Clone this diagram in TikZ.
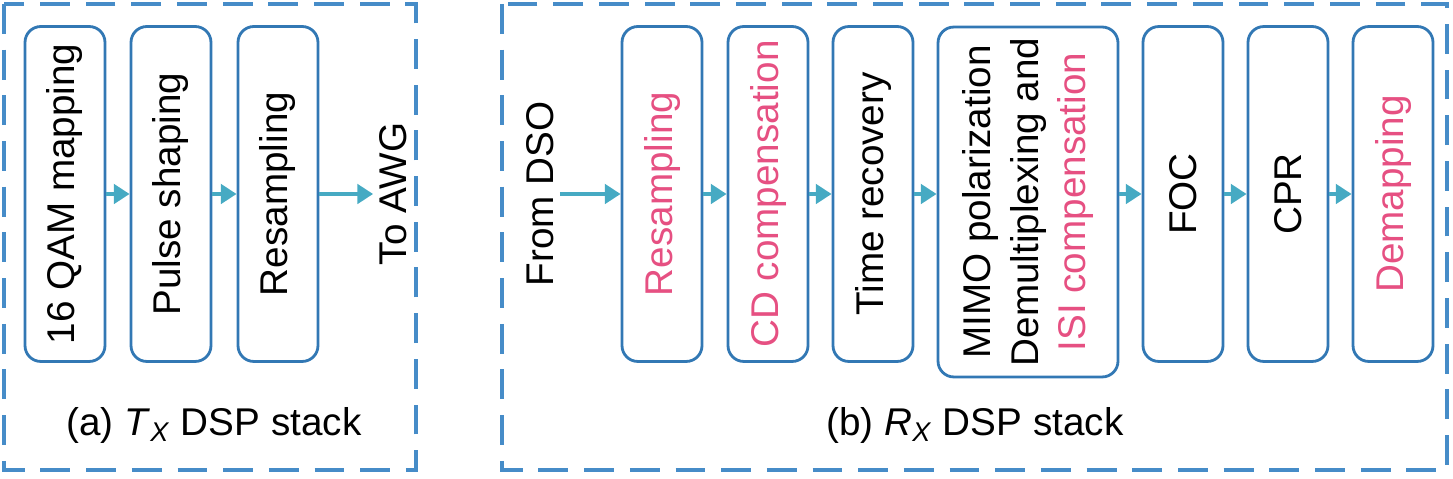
\documentclass[tikz,border=0pt]{standalone}
\usepackage{fontspec}
\setmainfont{Liberation Sans}
\usetikzlibrary{arrows.meta}
\definecolor{framecol}{RGB}{70,140,200}
\definecolor{boxcol}{RGB}{50,120,180}
\definecolor{arrcol}{RGB}{70,170,195}
\definecolor{pinkcol}{RGB}{230,80,130}
\tikzset{
  stage/.style={draw=boxcol, line width=1.6pt, rounded corners=9pt, rotate=90,
    minimum width=6.7cm, minimum height=1.6cm, inner sep=0pt, align=center,
    font=\fontsize{22}{27}\selectfont},
  frame/.style={draw=framecol, line width=2.2pt, dash pattern=on 17pt off 9pt},
  flow/.style={draw=arrcol, line width=2.4pt, -{Triangle[length=9pt,width=11pt]}},
  lbl/.style={font=\fontsize{22}{27}\selectfont}
}
\begin{document}
\begin{tikzpicture}[x=0.02cm,y=-0.02cm]
\useasboundingbox (0,0) rectangle (1453,479);
%
\draw[frame] (4,4) rectangle (416,470);
\draw[frame] (502,4) rectangle (1447,470);
%
\node[stage] (qam) at (65,194) {16 QAM mapping};
\node[stage] (pulse) at (171,194) {Pulse shaping};
\node[stage] (tres) at (278,194) {Resampling};
\node[lbl, rotate=90] (awg) at (393,194) {To AWG};
\node[lbl] (tcap) at (214,425) {(a) \textit{T}\textsubscript{\textit{X}} DSP stack};
%
\node[lbl, rotate=90] (dso) at (540,194) {From DSO};
\node[stage, text=pinkcol] (rres) at (662,194) {Resampling};
\node[stage, text=pinkcol] (cd) at (768,194) {CD compensation};
\node[stage] (time) at (873,194) {Time recovery};
\node[stage, minimum height=3.6cm, minimum width=7cm] (mimo) at (1028,202)
  {MIMO polarization\\Demultiplexing and\\\textcolor{pinkcol}{ISI compensation}};
\node[stage] (foc) at (1183,194) {FOC};
\node[stage] (cpr) at (1288,194) {CPR};
\node[stage, text=pinkcol] (demap) at (1393,194) {Demapping};
\node[lbl] (rcap) at (975,425) {(b) \textit{R}\textsubscript{\textit{X}} DSP stack};
%
\draw[flow] (qam.south) -- (pulse.north);
\draw[flow] (pulse.south) -- (tres.north);
\draw[flow] (tres.south) -- (tres.south -| awg.north);
\draw[flow] (dso.south) -- (rres.north);
\draw[flow] (rres.south) -- (cd.north);
\draw[flow] (cd.south) -- (time.north);
\draw[flow] (time.south) -- (time.south -| mimo.north);
\draw[flow] (foc.north -| mimo.south) -- (foc.north);
\draw[flow] (foc.south) -- (cpr.north);
\draw[flow] (cpr.south) -- (demap.north);
\end{tikzpicture}
\end{document}
